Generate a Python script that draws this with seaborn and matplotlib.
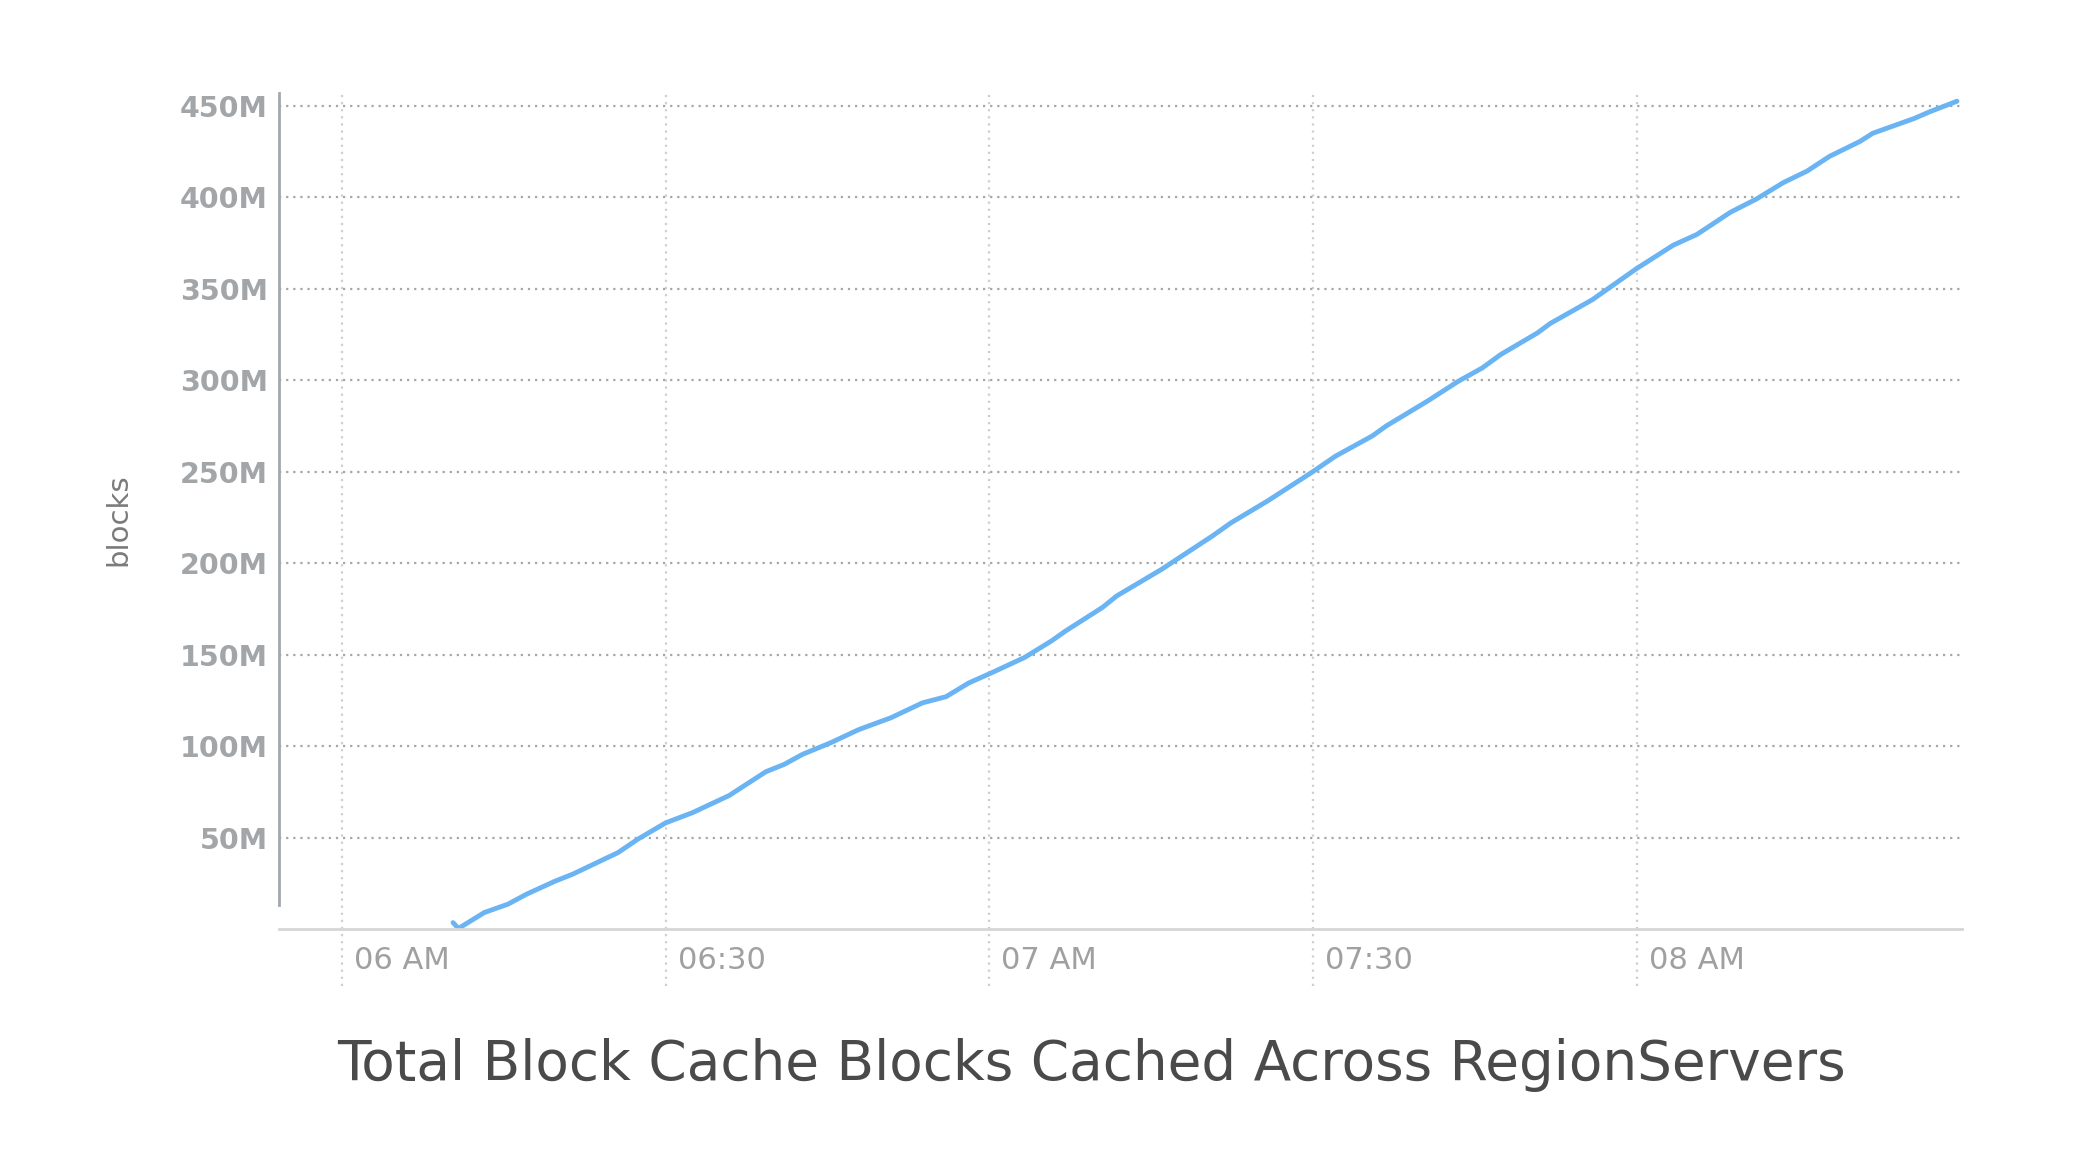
import matplotlib
matplotlib.use("Agg")
import matplotlib.pyplot as plt
import matplotlib.dates as mdates
import matplotlib.transforms as mtransforms
from matplotlib.ticker import FuncFormatter, FixedLocator
import seaborn as sns
import pandas as pd

# ---- data ----
times = ["06:10:18", "06:10:48", "06:13:12", "06:15:24", "06:17:06", "06:19:42",
         "06:21:24", "06:25:36", "06:27:24", "06:30:00", "06:32:30", "06:35:54",
         "06:39:18", "06:41:00", "06:42:42", "06:45:18", "06:47:54", "06:50:54",
         "06:53:48", "06:56:00", "06:58:06", "07:00:12", "07:03:18", "07:05:48",
         "07:07:06", "07:10:30", "07:11:48", "07:16:00", "07:20:42", "07:22:24",
         "07:25:48", "07:30:00", "07:32:06", "07:35:30", "07:36:48", "07:40:36",
         "07:43:30", "07:45:42", "07:47:24", "07:50:48", "07:52:00", "07:55:54",
         "08:00:00", "08:03:24", "08:05:36", "08:08:42", "08:11:06", "08:13:36",
         "08:15:48", "08:17:54", "08:20:42", "08:21:54", "08:25:42", "08:27:12",
         "08:29:42"]
blocks_m = [3.5, 0.3, 9.0, 13.6, 19.0, 26.0,
            30.0, 41.8, 49.0, 58.0, 63.6, 73.0,
            86.0, 90.0, 95.5, 101.8, 109.0, 115.5,
            123.6, 127.0, 134.5, 140.0, 148.5, 157.6,
            163.0, 175.8, 182.0, 196.7, 214.9, 222.0,
            234.0, 250.0, 258.5, 269.5, 275.0, 288.5,
            299.5, 306.7, 314.0, 325.8, 331.0, 344.0,
            361.0, 373.8, 379.7, 391.8, 399.0, 408.0,
            414.3, 422.4, 430.5, 435.0, 443.0, 446.8,
            452.5]
x_ticks = ["06:00", "06:30", "07:00", "07:30", "08:00"]
x_tick_labels = ["06 AM", "06:30", "07 AM", "07:30", "08 AM"]
y_ticks = [50, 100, 150, 200, 250, 300, 350, 400, 450]
title = "Total Block Cache Blocks Cached Across RegionServers"
y_label = "blocks"

day = "2017-01-01 "
df = pd.DataFrame({"time": pd.to_datetime([day + t for t in times]),
                   "blocks": blocks_m})

sns.set_style("white")
plt.rcParams["font.family"] = ["DejaVu Sans"]

W, H, DPI = 2076, 1168, 100
fig = plt.figure(figsize=(W / DPI, H / DPI), dpi=DPI)
left, right, top, bottom = 279, 1962, 93, 929
ax = fig.add_axes([left / W, 1 - bottom / H, (right - left) / W, (bottom - top) / H])

sns.lineplot(data=df, x="time", y="blocks", ax=ax, color="#6ab4f4", linewidth=3.5)

ax.set_xlim(pd.Timestamp(day + "05:54:10"), pd.Timestamp(day + "08:30:10"))
ax.set_ylim(0, 457)

# horizontal grid
ax.yaxis.set_major_locator(FixedLocator(y_ticks))
ax.yaxis.set_major_formatter(FuncFormatter(lambda v, p: f"{v:.0f}M"))
ax.yaxis.grid(True, linestyle=(0, (1, 2.2)), color="#a6a6a6", linewidth=1.6)
ax.xaxis.grid(False)

# x ticks
xt = [pd.Timestamp(day + t) for t in x_ticks]
ax.set_xticks(mdates.date2num(xt))
ax.set_xticklabels(x_tick_labels)
ax.tick_params(axis="x", length=0, pad=12, labelsize=22, labelcolor="#a0a0a0")
offset = mtransforms.ScaledTranslation(12 / DPI, 0, fig.dpi_scale_trans)
for lab in ax.get_xticklabels():
    lab.set_horizontalalignment("left")
    lab.set_transform(lab.get_transform() + offset)

# vertical gridlines extending below the axis
for t in xt:
    ax.axvline(t, ymin=-0.068, ymax=1.0, clip_on=False, color="#cfcfcf",
               linestyle=(0, (1, 2.2)), linewidth=1.6, zorder=0)

ax.tick_params(axis="y", length=4, width=1.5, color="#a0a4a8", pad=4,
               labelsize=20.5, labelcolor="#a3a6a9")
for lab in ax.get_yticklabels():
    lab.set_fontweight("bold")

for s in ["top", "right"]:
    ax.spines[s].set_visible(False)
ax.spines["left"].set_color("#a3a7ab")
ax.spines["left"].set_linewidth(2)
ax.spines["left"].set_bounds(13, 457)
ax.spines["bottom"].set_color("#d6d6d6")
ax.spines["bottom"].set_linewidth(2)

ax.set_xlabel("")
ax.set_ylabel(y_label, fontsize=21, color="#7a7a7a")
ax.yaxis.set_label_coords(-0.087, 0.49)

fig.text(1091 / W, 1 - 1065 / H, title, ha="center", va="center",
         fontsize=39.5, color="#4a4a4a")

fig.savefig("out.png", dpi=DPI, facecolor="white")
